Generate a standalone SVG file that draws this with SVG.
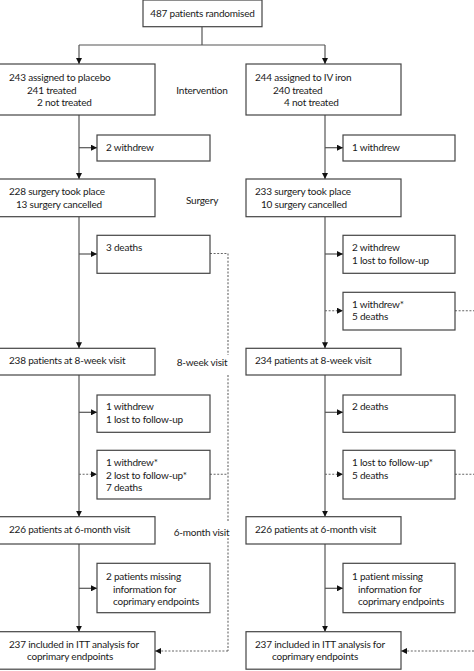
<svg xmlns="http://www.w3.org/2000/svg" width="474" height="671" viewBox="0 0 474 671">
<defs>
<style>
text{font-family:"Lato","Liberation Sans",sans-serif;font-size:10px;letter-spacing:-0.2px;fill:#1a1a1a}
.b{fill:#fff;stroke:#444;stroke-width:1.2}
.l{fill:none;stroke:#555;stroke-width:1.2}
.d{fill:none;stroke:#666;stroke-width:1.1;stroke-dasharray:2 1.6}
.m{text-anchor:middle}
</style>
<marker id="a" viewBox="0 0 10 10" refX="10" refY="5" markerWidth="6" markerHeight="6" markerUnits="userSpaceOnUse" orient="auto"><path d="M0,0L10,5L0,10z" fill="#111"/></marker>
</defs>
<rect width="474" height="671" fill="#fff"/>
<g id="connectors">
<path class="l" d="M202,26.7V45M79,45H325"/>
<path class="l" d="M79,45V64" marker-end="url(#a)"/>
<path class="l" d="M325,45V64" marker-end="url(#a)"/>
<path class="l" d="M79,115V179" marker-end="url(#a)"/>
<path class="l" d="M79,216.7V348.3" marker-end="url(#a)"/>
<path class="l" d="M79,375V516.7" marker-end="url(#a)"/>
<path class="l" d="M79,544V631.7" marker-end="url(#a)"/>
<path class="l" d="M325,115V179" marker-end="url(#a)"/>
<path class="l" d="M325,216.7V348.3" marker-end="url(#a)"/>
<path class="l" d="M325,375V516.7" marker-end="url(#a)"/>
<path class="l" d="M325,544V631.7" marker-end="url(#a)"/>
<path class="l" d="M79,147.7H97" marker-end="url(#a)"/>
<path class="l" d="M79,254H97" marker-end="url(#a)"/>
<path class="l" d="M79,412.3H97" marker-end="url(#a)"/>
<path class="d" d="M79,474.3H97" marker-end="url(#a)"/>
<path class="l" d="M79,588.3H97" marker-end="url(#a)"/>
<path class="l" d="M325,147.7H343" marker-end="url(#a)"/>
<path class="l" d="M325,254H343" marker-end="url(#a)"/>
<path class="d" d="M325,310.7H343" marker-end="url(#a)"/>
<path class="l" d="M325,412.3H343" marker-end="url(#a)"/>
<path class="d" d="M325,474.3H343" marker-end="url(#a)"/>
<path class="l" d="M325,588.3H343" marker-end="url(#a)"/>
<path class="d" d="M210,253.5H228V355M228,375V522M228,538V651"/>
<path class="d" d="M210,474.3H228"/>
<path class="d" d="M228,651H155" marker-end="url(#a)"/>
<path class="d" d="M455,310.7H474M455,474.3H474"/>
<path class="d" d="M474,651H401" marker-end="url(#a)"/>
</g>
<g id="n-random"><rect class="b" x="143" y="0" width="119" height="26.7"/><text class="m" x="202.5" y="16.5">487 patients randomised</text></g>
<g id="lbl-intervention"><text class="m" x="202" y="93.5">Intervention</text></g>
<g id="lbl-surgery"><text class="m" x="202" y="203.5">Surgery</text></g>
<g id="lbl-8week"><text class="m" x="202" y="366">8-week visit</text></g>
<g id="lbl-6month"><text class="m" x="201.5" y="535.5">6-month visit</text></g>
<g id="n-placebo"><rect class="b" x="-1" y="64" width="156" height="51"/><text x="9" y="80.5">243 assigned to placebo</text><text x="27" y="93.5">241 treated</text><text x="37" y="105.5">2 not treated</text></g>
<g id="n-iron"><rect class="b" x="246" y="64" width="155" height="51"/><text x="255" y="80.5">244 assigned to IV iron</text><text x="273" y="93.5">240 treated</text><text x="284" y="105.5">4 not treated</text></g>
<g id="n-l-withdrew"><rect class="b" x="97" y="135" width="113" height="26"/><text x="106" y="151">2 withdrew</text></g>
<g id="n-r-withdrew"><rect class="b" x="343" y="135" width="112" height="26"/><text x="352" y="151">1 withdrew</text></g>
<g id="n-l-surgery"><rect class="b" x="-1" y="179" width="156" height="37.7"/><text x="9" y="195">228 surgery took place</text><text x="16" y="207.5">13 surgery cancelled</text></g>
<g id="n-r-surgery"><rect class="b" x="246" y="179" width="155" height="37.7"/><text x="255" y="195">233 surgery took place</text><text x="261" y="207.5">10 surgery cancelled</text></g>
<g id="n-l-deaths"><rect class="b" x="97" y="235.3" width="113" height="38"/><text x="106" y="251">3 deaths</text></g>
<g id="n-r-lost"><rect class="b" x="343" y="235.3" width="112" height="38"/><text x="352" y="251">2 withdrew</text><text x="352" y="263.5">1 lost to follow-up</text></g>
<g id="n-r-withdrew2"><rect class="b" x="343" y="292.3" width="112" height="37.7"/><text x="352" y="307.5">1 withdrew*</text><text x="352" y="320">5 deaths</text></g>
<g id="n-l-8week"><rect class="b" x="-1" y="348.3" width="156" height="26.7"/><text x="9" y="364">238 patients at 8-week visit</text></g>
<g id="n-r-8week"><rect class="b" x="246" y="348.3" width="155" height="26.7"/><text x="255" y="364">234 patients at 8-week visit</text></g>
<g id="n-l-lost"><rect class="b" x="97" y="395" width="113" height="37.3"/><text x="106" y="410">1 withdrew</text><text x="106" y="423">1 lost to follow-up</text></g>
<g id="n-r-deaths"><rect class="b" x="343" y="395" width="112" height="37.3"/><text x="352" y="410">2 deaths</text></g>
<g id="n-l-star"><rect class="b" x="97" y="450.3" width="113" height="48.7"/><text x="106" y="466">1 withdrew*</text><text x="106" y="478.5">2 lost to follow-up*</text><text x="106" y="491.3">7 deaths</text></g>
<g id="n-r-star"><rect class="b" x="343" y="450.3" width="112" height="48.7"/><text x="352" y="466">1 lost to follow-up*</text><text x="352" y="478.5">5 deaths</text></g>
<g id="n-l-6month"><rect class="b" x="-1" y="516.7" width="156" height="27.3"/><text x="9" y="533.3">226 patients at 6-month visit</text></g>
<g id="n-r-6month"><rect class="b" x="246" y="516.7" width="155" height="27.3"/><text x="255" y="533.3">226 patients at 6-month visit</text></g>
<g id="n-l-missing"><rect class="b" x="97" y="563.3" width="113" height="49.4"/><text x="106" y="580">2 patients missing</text><text x="113" y="592.6">information for</text><text x="113" y="605">coprimary endpoints</text></g>
<g id="n-r-missing"><rect class="b" x="343" y="563.3" width="112" height="49.4"/><text x="352" y="580">1 patient missing</text><text x="358" y="592.6">information for</text><text x="358" y="605">coprimary endpoints</text></g>
<g id="n-l-itt"><rect class="b" x="-1" y="631.7" width="156" height="37.5"/><text x="9" y="647.6">237 included in ITT analysis for</text><text x="27" y="660">coprimary endpoints</text></g>
<g id="n-r-itt"><rect class="b" x="246" y="631.7" width="155" height="37.5"/><text x="255" y="647.6">237 included in ITT analysis for</text><text x="272" y="660">coprimary endpoints</text></g>
</svg>
